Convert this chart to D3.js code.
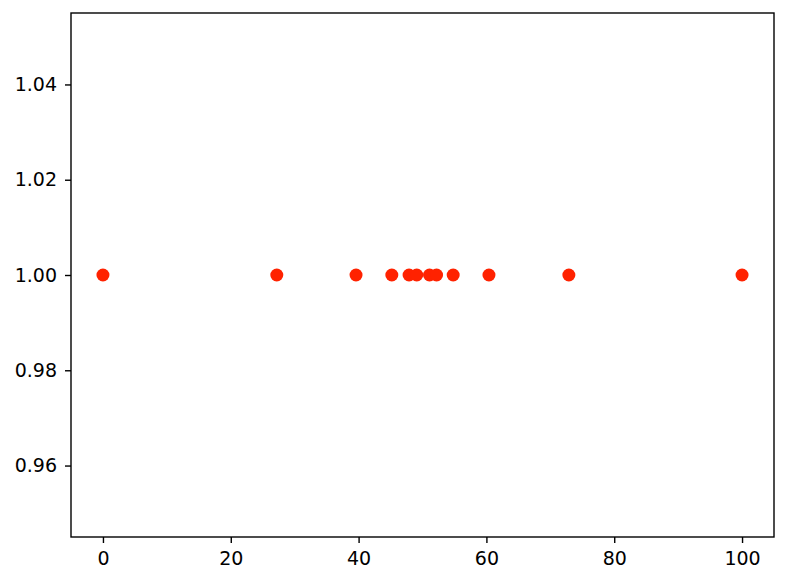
<!DOCTYPE html>
<html>
<head>
<meta charset="utf-8">
<script src="https://cdn.jsdelivr.net/npm/d3@7"></script>
<style>
  body { margin: 0; background: #fff; }
  .tick text { font-family: "DejaVu Sans", sans-serif; font-size: 19px; fill: #000; }
</style>
</head>
<body>
<svg id="chart" width="800" height="584"></svg>
<script>
// values
const xValues = [0, 27.2, 39.6, 45.2, 47.9, 49.1, 51.1, 52.2, 54.8, 60.4, 72.9, 100];
const yValues = [1, 1, 1, 1, 1, 1, 1, 1, 1, 1, 1, 1];
const xTicks = [0, 20, 40, 60, 80, 100];
const yTicks = [0.96, 0.98, 1.00, 1.02, 1.04];

const margin = {top: 13, right: 26, bottom: 47, left: 71},
    width = 800 - margin.left - margin.right,
    height = 584 - margin.top - margin.bottom;

const svg = d3.select("#chart")
    .append("g")
    .attr("transform", `translate(${margin.left},${margin.top})`);

const x = d3.scaleLinear().domain([-5, 105]).range([0, width]);
const y = d3.scaleLinear().domain([0.945, 1.055]).range([height, 0]);

// axes
const xAxis = svg.append("g")
    .attr("transform", "translate(0," + height + ")")
    .call(d3.axisBottom(x).tickValues(xTicks).tickSize(6).tickPadding(9).tickFormat(d3.format("d")));

const yAxis = svg.append("g")
    .call(d3.axisLeft(y).tickValues(yTicks).tickSize(6).tickPadding(8).tickFormat(d3.format(".2f")));

[xAxis, yAxis].forEach(a => {
    a.select(".domain").remove();
    a.selectAll(".tick line").attr("stroke", "#000").attr("stroke-width", 1.4);
});

// frame
svg.append("rect")
    .attr("width", width)
    .attr("height", height)
    .attr("fill", "none")
    .attr("stroke", "#000")
    .attr("stroke-width", 1.4);

// points
svg.selectAll(".dot")
    .data(xValues.map((v, i) => ({x: v, y: yValues[i]})))
    .enter()
    .append("circle")
    .attr("class", "dot")
    .attr("cx", d => x(d.x))
    .attr("cy", d => y(d.y))
    .attr("r", 6.5)
    .attr("fill", "#ff2200");
</script>
</body>
</html>
